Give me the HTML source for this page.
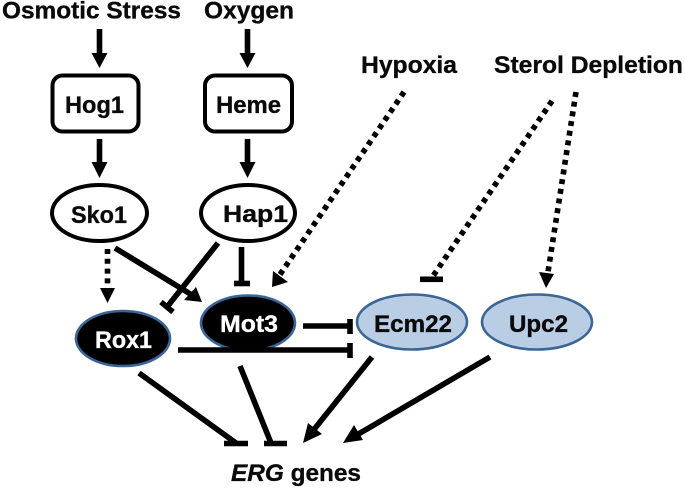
<!DOCTYPE html>
<html>
<head>
<meta charset="utf-8">
<style>
html,body{margin:0;padding:0;background:#fff;width:685px;height:488px;overflow:hidden}
svg{display:block}
text{font-family:"Liberation Sans",Arial,sans-serif;font-weight:bold;font-size:24.5px;fill:#0a0a0a;stroke:#0a0a0a;stroke-width:.35}
.s{stroke:#000;stroke-width:5.6;fill:none}
.d{stroke:#000;stroke-width:5.6;fill:none;stroke-dasharray:5 4.8}
.h{fill:#000;stroke:none}
.blk{fill:#000;stroke:#3a6595;stroke-width:2.6}
.blu{fill:#b9cde5;stroke:#3a6595;stroke-width:2.6}
.wht{fill:#fff;stroke:#000;stroke-width:4}
.w{fill:#fff;stroke:#fff}
</style>
</head>
<body>
<svg width="685" height="488" viewBox="0 0 685 488" xmlns="http://www.w3.org/2000/svg">
<g style="filter:blur(.35px)">
<!-- solid vertical arrows -->
<line class="s" x1="99.5" y1="29" x2="99.5" y2="55"/>
<polygon class="h" points="91.5,53 107.5,53 99.5,68"/>
<line class="s" x1="247.5" y1="29" x2="247.5" y2="55"/>
<polygon class="h" points="239.5,53 255.5,53 247.5,68"/>
<line class="s" x1="99.5" y1="139" x2="99.5" y2="164"/>
<polygon class="h" points="91.5,162 107.5,162 99.5,178"/>
<line class="s" x1="247.5" y1="139" x2="247.5" y2="164"/>
<polygon class="h" points="239.5,162 255.5,162 247.5,178"/>

<!-- boxes -->
<rect class="wht" x="52.5" y="75.5" width="86" height="56" rx="10" ry="10"/>
<rect class="wht" x="205" y="75.5" width="87" height="56" rx="10" ry="10"/>

<!-- white ellipses -->
<ellipse class="wht" cx="99.5" cy="213" rx="47.5" ry="28"/>
<ellipse class="wht" cx="248" cy="213" rx="47" ry="28"/>

<!-- dotted lines -->
<line class="d" x1="404" y1="92" x2="279" y2="276"/>
<polygon class="h" points="272,287 273,271 288,282"/>
<line class="d" x1="552" y1="101" x2="433" y2="276"/>
<line class="d" x1="576" y1="92" x2="548" y2="272"/>
<polygon class="h" points="546,288 539,272 554,274"/>
<line class="d" x1="107.5" y1="249" x2="107.5" y2="289"/>
<polygon class="h" points="100,288 115,288 107.5,303"/>
<rect class="h" x="420" y="276.5" width="23" height="5.6"/>

<!-- ovals: dark and blue -->
<ellipse class="blk" cx="123" cy="338.5" rx="47" ry="27.5"/>
<ellipse class="blk" cx="248" cy="323" rx="47" ry="27.5"/>
<ellipse class="blu" cx="412" cy="322" rx="55" ry="27.5"/>
<ellipse class="blu" cx="537" cy="322" rx="55" ry="27.5"/>

<!-- solid connectors -->
<line class="s" x1="115" y1="248" x2="192" y2="295"/>
<polygon class="h" points="202,302 184,300 196,287"/>
<line class="s" x1="218" y1="243" x2="167" y2="307"/>
<line class="s" x1="161" y1="302" x2="173" y2="312"/>
<line class="s" x1="241.5" y1="247" x2="241.5" y2="283"/>
<line class="s" x1="234" y1="283.5" x2="250" y2="283.5"/>
<line class="s" x1="303" y1="326" x2="349" y2="326"/>
<line class="s" x1="350" y1="319" x2="350" y2="334"/>
<line class="s" x1="178" y1="350" x2="349" y2="350"/>
<line class="s" x1="350" y1="343" x2="350" y2="358"/>
<line class="s" x1="139" y1="373" x2="236" y2="443"/>
<line class="s" x1="224" y1="443.5" x2="248" y2="443.5"/>
<line class="s" x1="240" y1="366" x2="271" y2="443"/>
<line class="s" x1="264" y1="443.5" x2="287" y2="443.5"/>
<line class="s" x1="372" y1="357" x2="312" y2="432"/>
<polygon class="h" points="303,443 308,423 322,434"/>
<line class="s" x1="490" y1="357" x2="355" y2="436"/>
<polygon class="h" points="343,443 354,425 363,440"/>

<!-- labels -->
<text x="2" y="18.5" textLength="179" lengthAdjust="spacingAndGlyphs">Osmotic Stress</text>
<text x="204" y="18.5" textLength="90" lengthAdjust="spacingAndGlyphs">Oxygen</text>
<text x="361" y="73" textLength="96" lengthAdjust="spacingAndGlyphs">Hypoxia</text>
<text x="494" y="73" textLength="189" lengthAdjust="spacingAndGlyphs">Sterol Depletion</text>
<text x="65" y="113" textLength="59" lengthAdjust="spacingAndGlyphs">Hog1</text>
<text x="216" y="113" textLength="65" lengthAdjust="spacingAndGlyphs">Heme</text>
<text x="71" y="223" textLength="56" lengthAdjust="spacingAndGlyphs">Sko1</text>
<text x="223" y="222" textLength="65" lengthAdjust="spacingAndGlyphs">Hap1</text>
<text class="w" x="95" y="348" textLength="57" lengthAdjust="spacingAndGlyphs">Rox1</text>
<text class="w" x="220" y="332" textLength="58" lengthAdjust="spacingAndGlyphs">Mot3</text>
<text x="374" y="332" textLength="78" lengthAdjust="spacingAndGlyphs">Ecm22</text>
<text x="509" y="332" textLength="59" lengthAdjust="spacingAndGlyphs">Upc2</text>
<text x="231" y="481" textLength="130" lengthAdjust="spacingAndGlyphs"><tspan font-style="italic">ERG</tspan> genes</text>
</g>
</svg>
</body>
</html>
